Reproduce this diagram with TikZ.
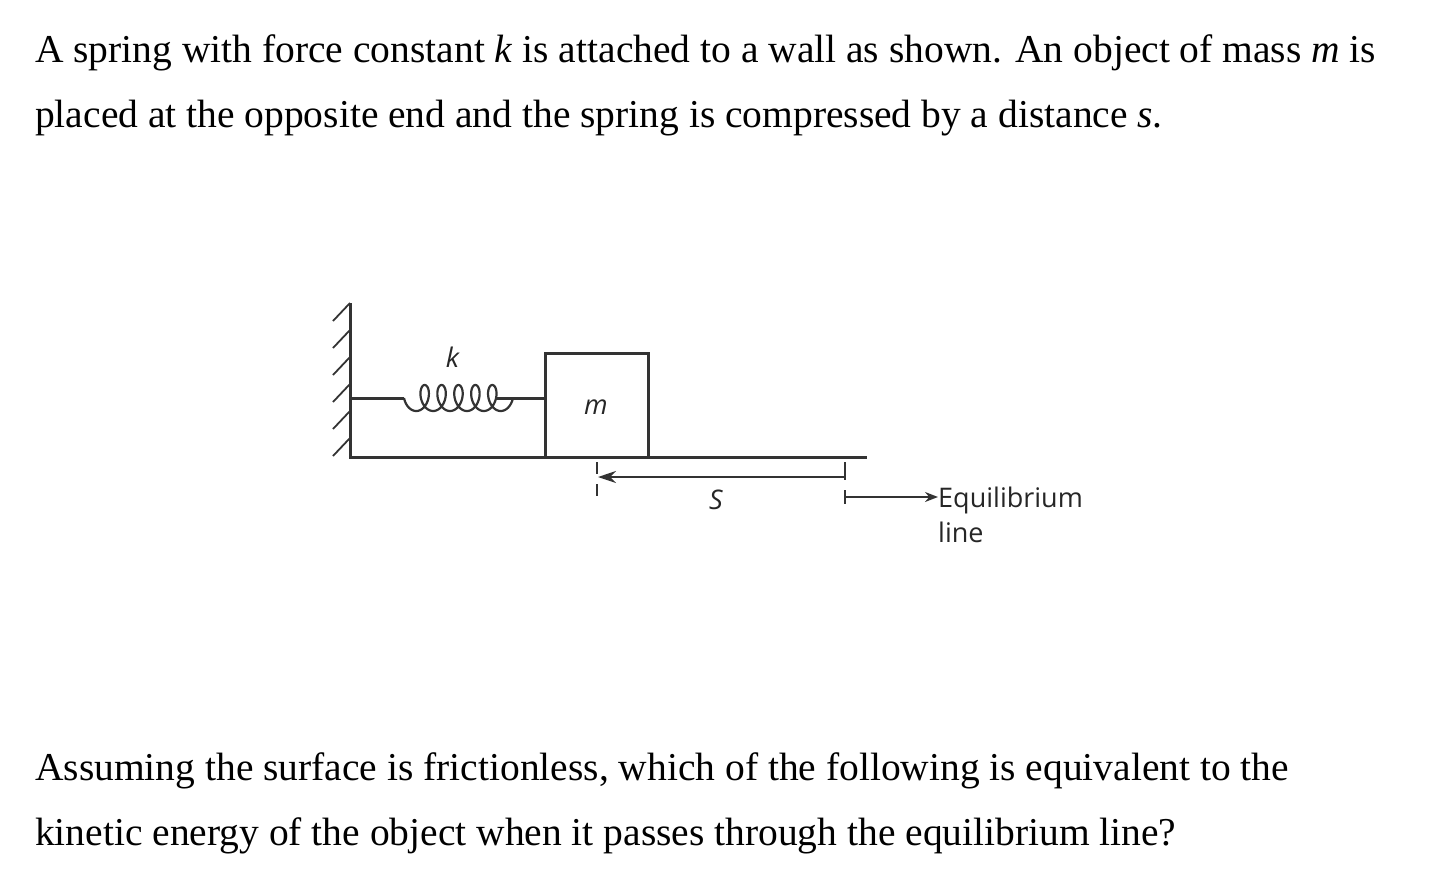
\documentclass[tikz,border=0pt]{standalone}
\usepackage{fontspec}
\setmainfont{Liberation Serif}
\newfontfamily\lblfont{Open Sans}
\usetikzlibrary{arrows.meta}
\begin{document}
\begin{tikzpicture}[x=1pt,y=-1pt,
  txt/.style={anchor=base west,inner sep=0pt,font=\fontsize{39.5}{46}\selectfont},
  lbl/.style={inner sep=0pt,font=\lblfont\fontsize{27}{30}\selectfont,text=black!85},
  ln/.style={line width=3pt,draw=black!80},
  thin/.style={line width=1.8pt,draw=black!80}]
\useasboundingbox (0,0) rectangle (1438,886);
\node[txt] (t1) at (35,62) {A spring with force constant \textit{k} is attached to a wall as shown. An object of mass \textit{m} is};
\node[txt] (t2) at (35,127) {placed at the opposite end and the spring is compressed by a distance \textit{s}.};
\node[txt] (t3) at (35,780) {Assuming the surface is frictionless, which of the following is equivalent to the};
\node[txt] (t4) at (35,845) {kinetic energy of the object when it passes through the equilibrium line?};
% wall and floor
\coordinate (wt) at (350,303);
\coordinate (wb) at (350,457);
\coordinate (fe) at (867,457);
\draw[ln] (wt) -- (wb) -- (fe);
\foreach \y in {303,330,357,384,411,438}
  \draw[thin] (350,\y) -- (333,\y+18);
% block
\node[draw=black!80,line width=3pt,minimum width=103pt,minimum height=104pt,inner sep=0pt] (box) at (596.5,405) {};
\node[lbl] (m) at (596,407) {\textit{m}};
\node[lbl] (k) at (453,357) {\textit{k}};
% spring
\coordinate (s0) at (404,398);
\coordinate (s1) at (497,398);
\draw[ln] (wb|-s0) -- (s0);
\draw[line width=2.2pt,draw=black!80] plot[domain=0:34.5575,samples=400,variable=\t]
  ({404+2.69*\t-8*cos(\t r)+8},{398+13*sin(\t r)});
\draw[ln] (s1) -- (box.west|-s1);
% dimension
\coordinate (a0) at (597,462);
\coordinate (a1) at (845,462);
\draw[thin,dash pattern=on 12pt off 10pt] (a0) -- ++(0,40);
\draw[thin] (a1) -- ++(0,18) (845,490) -- ++(0,14);
\draw[thin,-{Stealth[length=18pt,width=12pt]}] (845,477) -- (598,477);
\node[lbl] (s) at (716,500) {\textit{S}};
\node[lbl,anchor=west,align=left,font=\lblfont\fontsize{27}{35}\selectfont] (eq) at (938,515) {Equilibrium\\line};
\draw[thin,-{Stealth[length=13pt,width=10pt]}] (845,497) -- (eq.west|-845,497);
\end{tikzpicture}
\end{document}
